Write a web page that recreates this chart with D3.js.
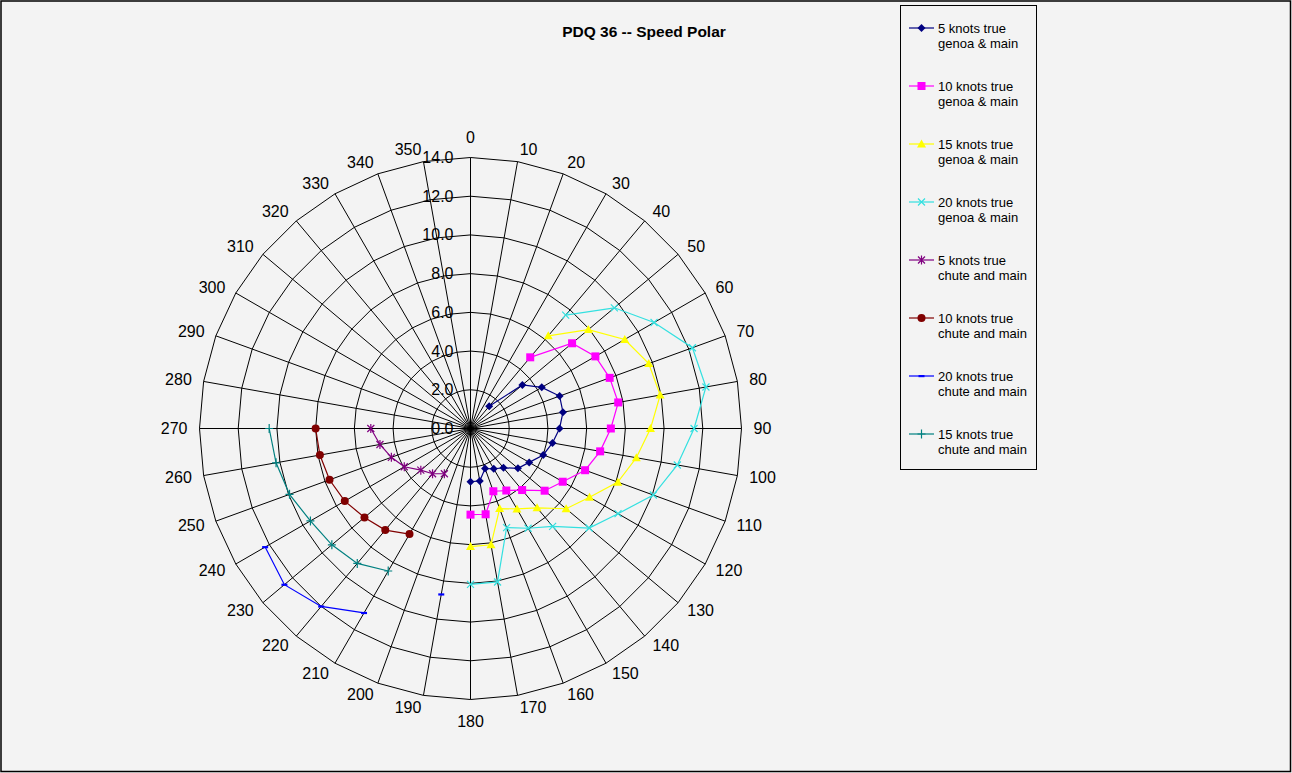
<!DOCTYPE html>
<html>
<head>
<meta charset="utf-8">
<script src="https://cdn.jsdelivr.net/npm/d3@7"></script>
<style>
  body { margin: 0; background: #f3f3f3; }
  svg { display: block; font-family: "Liberation Sans", Arial, sans-serif; }
</style>
</head>
<body>
<div id="chart"></div>
<script>
// categories: true wind angle, every 10 degrees
var angles = d3.range(0, 360, 10)
var radialTicks = [0, 2, 4, 6, 8, 10, 12, 14]

// boat speed (knots) per angle, null = no value
var g5 = [null, null, null, null, 1.5, 3.5, 4.25, 4.9, 4.85, 4.6, 4.3, 4.0, 3.5, 3.2, 2.65, 2.4, 2.2, 2.75, 2.75,
    null, null, null, null, null, null, null, null, null, null, null, null, null, null, null, null, null]
var g10 = [null, null, null, null, 4.8, 6.85, 7.45, 7.65, 7.75, 7.25, 6.8, 6.3, 5.5, 5.0, 4.15, 3.7, 3.45, 4.5, 4.45,
    null, null, null, null, null, null, null, null, null, null, null, null, null, null, null, null, null]
var g15 = [null, null, null, null, 6.25, 7.95, 9.2, 9.8, 9.95, 9.3, 8.7, 8.1, 7.1, 6.45, 5.35, 4.8, 4.4, 6.1, 6.1,
    null, null, null, null, null, null, null, null, null, null, null, null, null, null, null, null, null]
var g20 = [null, null, null, null, 7.65, 9.7, 10.95, 12.2, 12.35, 11.55, 10.85, 10.05, 8.8, 8.0, 6.6, 5.95, 5.45, 8.05, 8.05,
    null, null, null, null, null, null, null, null, null, null, null, null, null, null, null, null, null]
var c5 = [null, null, null, null, null, null, null, null, null, null, null, null, null, null, null, null, null, null, null,
    null, null, 2.7, 3.05, 3.35, 3.95, 4.35, 4.75, 5.15, null, null, null, null, null, null, null, null]
var c10 = [null, null, null, null, null, null, null, null, null, null, null, null, null, null, null, null, null, null, null,
    null, null, 6.3, 6.85, 7.15, 7.5, 7.75, 7.9, 8.0, null, null, null, null, null, null, null, null]
var c20 = [null, null, null, null, null, null, null, null, null, null, null, null, null, null, null, null, null, null, null,
    8.7, null, 11.0, 12.0, 12.55, 12.25, null, null, null, null, null, null, null, null, null, null, null]
var c15 = [null, null, null, null, null, null, null, null, null, null, null, null, null, null, null, null, null, null, null,
    null, null, 8.5, 9.1, 9.35, 9.55, 9.95, 10.2, 10.4, null, null, null, null, null, null, null, null]

var seriesNames = [
    ["5 knots true", "genoa & main"],
    ["10 knots true", "genoa & main"],
    ["15 knots true", "genoa & main"],
    ["20 knots true", "genoa & main"],
    ["5 knots true", "chute and main"],
    ["10 knots true", "chute and main"],
    ["20 knots true", "chute and main"],
    ["15 knots true", "chute and main"]
]
var seriesValues = [g5, g10, g15, g20, c5, c10, c20, c15]
var seriesColors = ["#000080", "#ff00ff", "#ffff00", "#33e0e0", "#800080", "#800000", "#0000ff", "#008080"]
var seriesMarkers = ["diamond", "square", "triangle", "x", "star", "circle", "dash", "plus"]

const W = 1292, H = 773
const cx = 470.5, cy = 428.5, R = 271

const svg = d3.select("#chart")
    .append("svg")
    .attr("width", W)
    .attr("height", H)

// chart border
svg.append("rect")
    .attr("x", 1).attr("y", 1)
    .attr("width", W - 2.5).attr("height", H - 2.5)
    .attr("fill", "#f3f3f3")
    .attr("stroke", "#000")
    .attr("stroke-width", 1.5)

// title
svg.append("text")
    .attr("x", 644)
    .attr("y", 31)
    .attr("text-anchor", "middle")
    .attr("dominant-baseline", "central")
    .style("font-size", "15.5px")
    .style("font-weight", "bold")
    .text("PDQ 36 -- Speed Polar")

const r = d3.scaleLinear().domain([0, 14]).range([0, R])
const a = d3.scaleLinear().domain([0, 360]).range([0, 2 * Math.PI])

const plot = svg.append("g")
    .attr("transform", `translate(${cx}, ${cy})`)

// rings (polygons, like an Excel radar chart)
const ring = d3.lineRadial()
    .angle(d => a(d))
    .curve(d3.curveLinearClosed)
plot.selectAll(".ring")
    .data(radialTicks.slice(1))
    .join("path")
    .attr("class", "ring")
    .attr("d", v => ring.radius(r(v))(angles))
    .attr("fill", "none")
    .attr("stroke", "#000")
    .attr("stroke-width", 1)

// spokes
plot.selectAll(".spoke")
    .data(angles)
    .join("line")
    .attr("class", "spoke")
    .attr("x1", 0).attr("y1", 0)
    .attr("x2", d => r(14) * Math.sin(a(d)))
    .attr("y2", d => -r(14) * Math.cos(a(d)))
    .attr("stroke", "#000")
    .attr("stroke-width", 1)

// angle labels
const labelR = R + 12
plot.selectAll(".alabel")
    .data(angles)
    .join("text")
    .attr("class", "alabel")
    .attr("x", d => labelR * Math.sin(a(d)))
    .attr("y", function (d) {
        var y = -labelR * Math.cos(a(d))
        if (d == 0) return y - 8
        if (d == 180) return y + 10
        return y
    })
    .attr("text-anchor", d => d == 0 || d == 180 ? "middle" : (d < 180 ? "start" : "end"))
    .attr("dominant-baseline", "central")
    .style("font-size", "16px")
    .text(d => d)

// radial axis labels
plot.selectAll(".rlabel")
    .data(radialTicks)
    .join("text")
    .attr("class", "rlabel")
    .attr("x", -17)
    .attr("y", d => -r(d))
    .attr("text-anchor", "end")
    .attr("dominant-baseline", "central")
    .style("font-size", "16px")
    .text(d => d.toFixed(1))

// marker drawing
function drawMarker(g, type, color, x, y) {
    if (type == "diamond") {
        g.append("path")
            .attr("d", `M${x},${y - 4}L${x + 4},${y}L${x},${y + 4}L${x - 4},${y}Z`)
            .attr("fill", color)
    } else if (type == "square") {
        g.append("rect")
            .attr("x", x - 4).attr("y", y - 4)
            .attr("width", 8).attr("height", 8)
            .attr("fill", color)
    } else if (type == "triangle") {
        g.append("path")
            .attr("d", `M${x},${y - 4.5}L${x + 4.5},${y + 3.5}L${x - 4.5},${y + 3.5}Z`)
            .attr("fill", color)
    } else if (type == "x") {
        g.append("path")
            .attr("d", `M${x - 3.5},${y - 3.5}L${x + 3.5},${y + 3.5}M${x - 3.5},${y + 3.5}L${x + 3.5},${y - 3.5}`)
            .attr("stroke", color).attr("stroke-width", 1.2)
    } else if (type == "star") {
        g.append("path")
            .attr("d", `M${x - 3.5},${y - 3.5}L${x + 3.5},${y + 3.5}M${x - 3.5},${y + 3.5}L${x + 3.5},${y - 3.5}M${x},${y - 4.5}L${x},${y + 4.5}`)
            .attr("stroke", color).attr("stroke-width", 1.2)
    } else if (type == "circle") {
        g.append("circle")
            .attr("cx", x).attr("cy", y).attr("r", 4)
            .attr("fill", color)
    } else if (type == "dash") {
        g.append("rect")
            .attr("x", x - 3).attr("y", y - 1)
            .attr("width", 6).attr("height", 2.2)
            .attr("fill", color)
    } else if (type == "plus") {
        g.append("path")
            .attr("d", `M${x - 4},${y}L${x + 4},${y}M${x},${y - 4.5}L${x},${y + 4.5}`)
            .attr("stroke", color).attr("stroke-width", 1.2)
    }
}

// series lines and markers
const line = d3.lineRadial()
    .defined(d => d.v != null)
    .angle(d => a(d.angle))
    .radius(d => r(d.v))

seriesValues.forEach(function (vals, i) {
    var pts = angles.map((ang, k) => ({angle: ang, v: vals[k]}))
    var g = plot.append("g")
    g.append("path")
        .attr("d", line(pts))
        .attr("fill", "none")
        .attr("stroke", seriesColors[i])
        .attr("stroke-width", 1.2)
    pts.filter(p => p.v != null).forEach(function (p) {
        drawMarker(g, seriesMarkers[i], seriesColors[i],
            r(p.v) * Math.sin(a(p.angle)), -r(p.v) * Math.cos(a(p.angle)))
    })
})

// legend
const legend = svg.append("g")
legend.append("rect")
    .attr("x", 900.5).attr("y", 5.5)
    .attr("width", 136).attr("height", 464)
    .attr("fill", "#f3f3f3")
    .attr("stroke", "#000")
    .attr("stroke-width", 1)

seriesNames.forEach(function (name, i) {
    var y = 28 + i * 58
    legend.append("line")
        .attr("x1", 909).attr("x2", 934)
        .attr("y1", y).attr("y2", y)
        .attr("stroke", seriesColors[i])
        .attr("stroke-width", 1.2)
    drawMarker(legend, seriesMarkers[i], seriesColors[i], 921.5, y)
    name.forEach(function (t, j) {
        legend.append("text")
            .attr("x", 938)
            .attr("y", y + j * 15.3)
            .attr("dominant-baseline", "central")
            .style("font-size", "13px")
            .text(t)
    })
})
</script>
</body>
</html>
